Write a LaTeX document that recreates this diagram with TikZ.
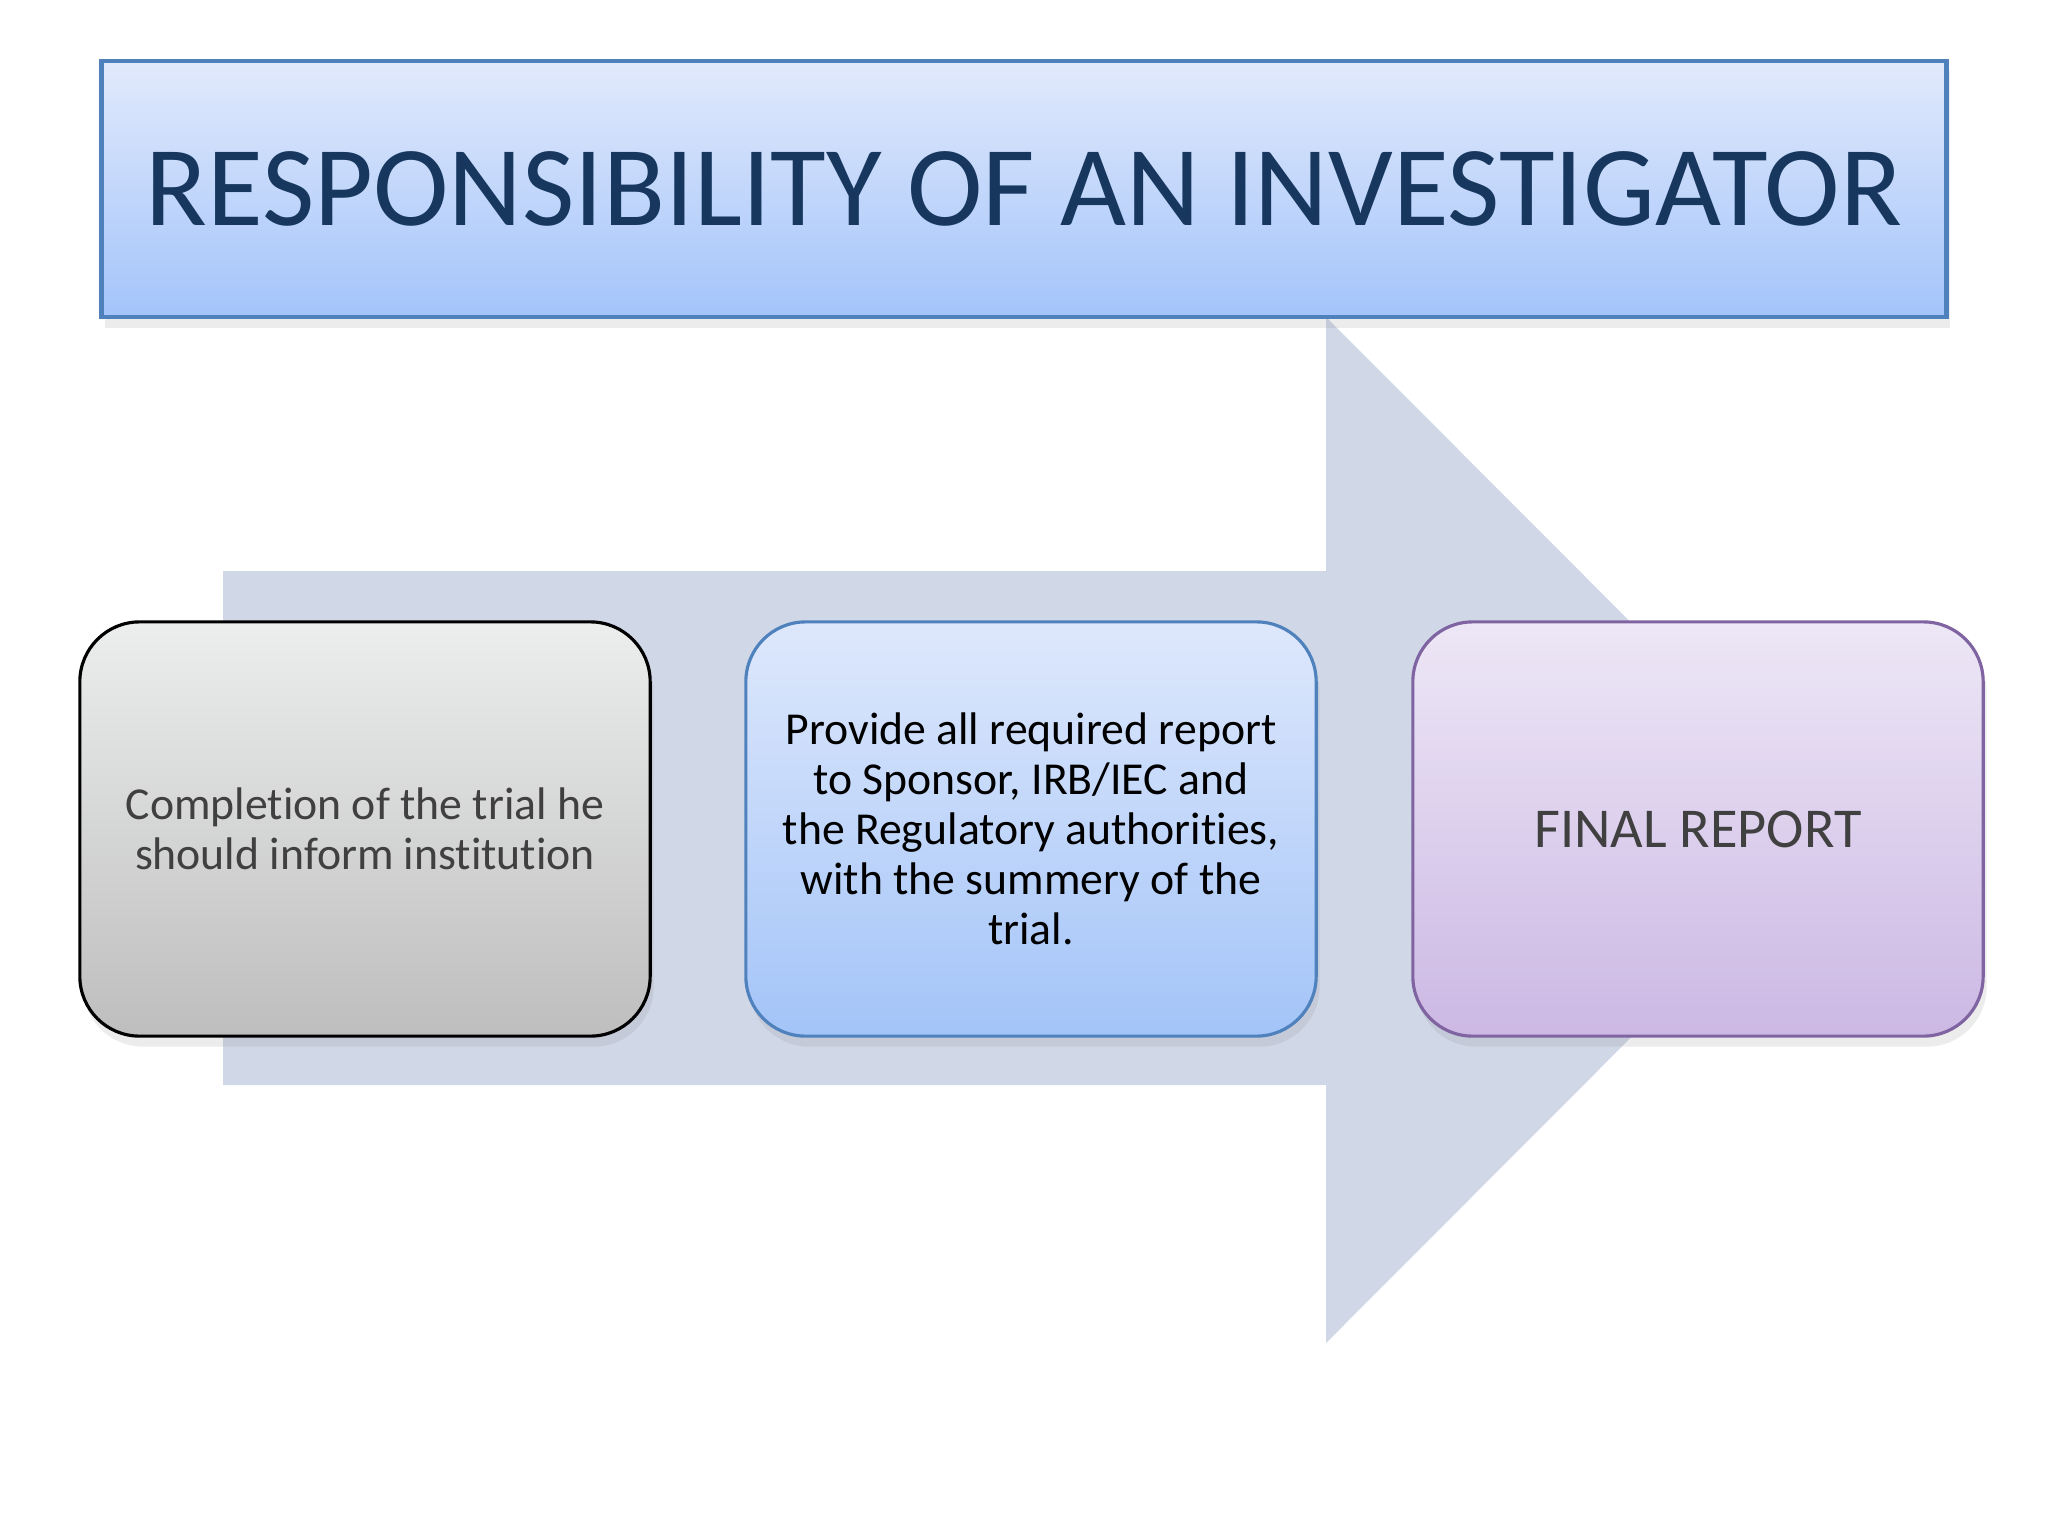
\documentclass[tikz,border=0pt]{standalone}
\usepackage{fontspec}
\setmainfont[Ligatures=NoCommon]{Carlito}
\usepackage{tikz}
\usetikzlibrary{shadows}

\definecolor{titleblue}{RGB}{23,55,94}
\definecolor{arrowgrey}{RGB}{208,216,232}

\begin{document}
\begin{tikzpicture}[x=0.01cm, y=-0.01cm,
		stepbox/.style={rounded corners=17pt, minimum width=5.7cm, minimum height=4.14cm,
			align=center, line width=0.9pt,
			drop shadow={opacity=0.15, shadow xshift=1pt, shadow yshift=-3pt}},
		boxtext/.style={font=\fontsize{13pt}{14.2pt}\selectfont}
	]
	\useasboundingbox[fill=white] (0,0) rectangle (2048,1536);

	% big arrow in the background
	\fill[arrowgrey] (223,571) -- (1326,571) -- (1326,317) -- (1838,830)
		-- (1326,1343) -- (1326,1085) -- (223,1085) -- cycle;

	\node[draw={rgb,255:red,79;green,129;blue,189}, line width=1.2pt,
		top color={rgb,255:red,226;green,234;blue,252},
		bottom color={rgb,255:red,163;green,196;blue,250},
		minimum width=18.44cm, minimum height=2.56cm,
		drop shadow={opacity=0.15, shadow xshift=1pt, shadow yshift=-3pt},
		text=titleblue, font=\fontsize{32.4pt}{38pt}\selectfont] (title) at (1024,189)
		{RESPONSIBILITY OF AN INVESTIGATOR};

	\node[stepbox, draw=black,
		top color={rgb,255:red,236;green,237;blue,237},
		bottom color={rgb,255:red,190;green,190;blue,190},
		text={rgb,255:red,64;green,64;blue,64}, boxtext] (completion) at (365,829)
		{Completion of the trial he\\should inform institution};

	\node[stepbox, draw={rgb,255:red,79;green,129;blue,189},
		top color={rgb,255:red,222;green,232;blue,252},
		bottom color={rgb,255:red,163;green,196;blue,248},
		text=black, boxtext] (reports) at (1031,829)
		{Provide all required report\\to Sponsor, IRB/IEC and\\the Regulatory authorities,\\with the summery of the\\trial.};

	\node[stepbox, draw={rgb,255:red,128;green,100;blue,162},
		top color={rgb,255:red,237;green,231;blue,246},
		bottom color={rgb,255:red,204;green,184;blue,228},
		text={rgb,255:red,64;green,64;blue,64}, font=\fontsize{16pt}{19pt}\selectfont] (final) at (1698,829)
		{FINAL REPORT};
\end{tikzpicture}
\end{document}
